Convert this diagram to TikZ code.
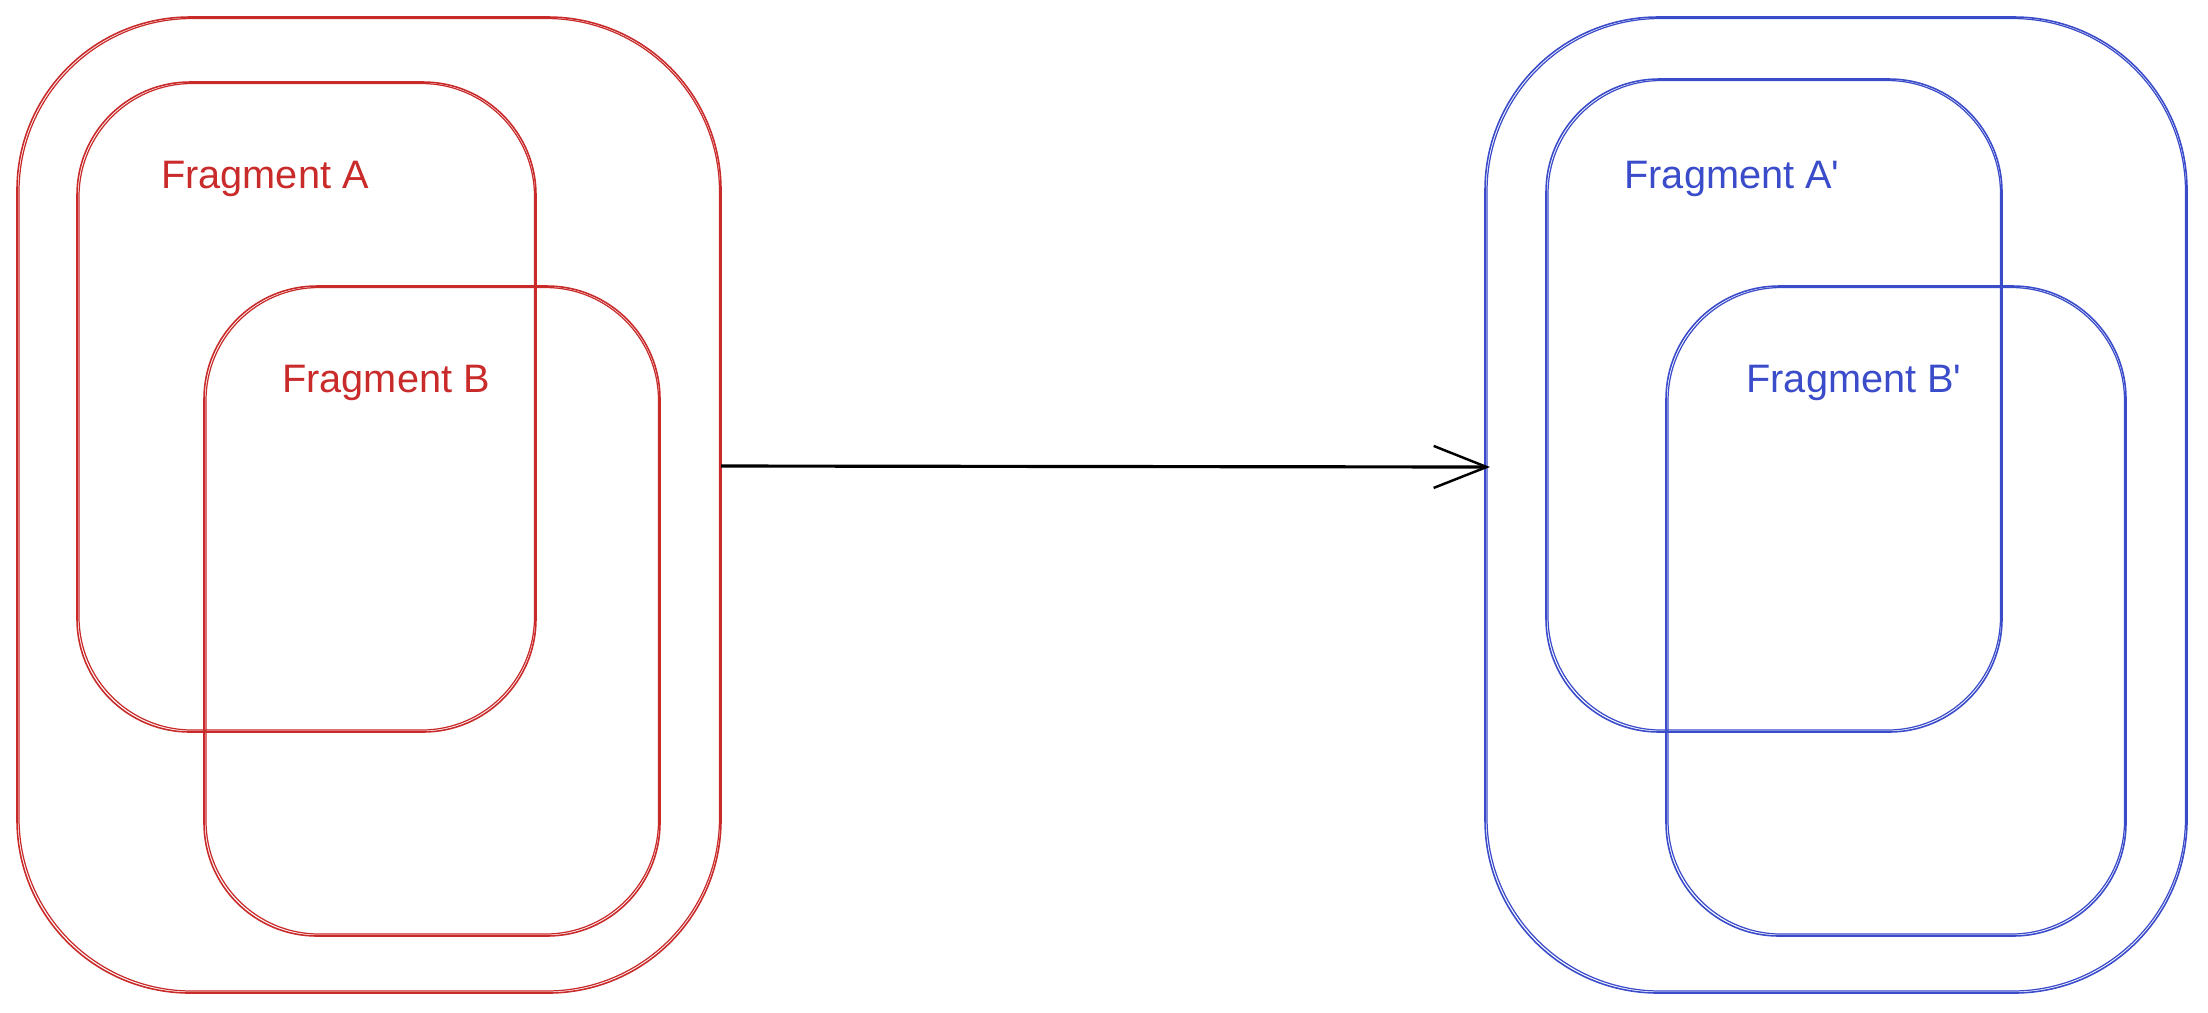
\documentclass[tikz,border=0pt]{standalone}
\usepackage{fontspec}
\setmainfont{Liberation Sans}
\usetikzlibrary{arrows.meta}
\definecolor{fred}{HTML}{C92A2A}
\definecolor{fblue}{HTML}{3B4CCA}
\tikzset{
  frag/.style={draw, line width=0.45pt, inner sep=0pt, outer sep=0pt, rectangle},
  bigbox/.style={frag, rounded corners=1.73cm, minimum width=#1},
  smallbox/.style={frag, rounded corners=1.13cm},
  lbl/.style={font=\fontsize{11.3}{13}\selectfont, inner sep=0pt},
  flow/.style={line width=0.9pt, -{Straight Barb[length=0.53cm,width=0.42cm,line width=0.7pt]}}
}
\newcommand{\sketchagain}[3]{% node, corner radius, colour
  \draw[#3, line width=0.35pt, rounded corners=#2]
    ([shift={(0.02,-0.015)}]#1.north west) rectangle ([shift={(-0.015,0.02)}]#1.south east);
}
\begin{document}
\begin{tikzpicture}
\useasboundingbox (0,0) rectangle (22.08,-10.12);
% left group
\node[bigbox=7.04cm, minimum height=9.76cm, color=fred] (ro) at (3.69,-5.05) {};
\node[smallbox, minimum width=4.59cm, minimum height=6.50cm, color=fred] (ra) at (3.065,-4.07) {};
\node[smallbox, minimum width=4.56cm, minimum height=6.50cm, color=fred] (rb) at (4.32,-6.11) {};
\sketchagain{ro}{1.73cm}{fred}
\sketchagain{ra}{1.13cm}{fred}
\sketchagain{rb}{1.13cm}{fred}
\node[lbl, text=fred] (ta) at (2.65,-1.79) {Fragment A};
\node[lbl, text=fred] (tb) at (3.86,-3.83) {Fragment B};
% right group
\node[bigbox=7.02cm, minimum height=9.76cm, color=fblue] (bo) at (18.36,-5.05) {};
\node[smallbox, minimum width=4.56cm, minimum height=6.53cm, color=fblue] (ba) at (17.74,-4.055) {};
\node[smallbox, minimum width=4.60cm, minimum height=6.50cm, color=fblue] (bb) at (18.96,-6.11) {};
\sketchagain{bo}{1.73cm}{fblue}
\sketchagain{ba}{1.13cm}{fblue}
\sketchagain{bb}{1.13cm}{fblue}
\node[lbl, text=fblue] (tap) at (17.32,-1.79) {Fragment A\textquotesingle};
\node[lbl, text=fblue] (tbp) at (18.54,-3.83) {Fragment B\textquotesingle};
% arrow
\draw[flow] ([yshift=0.39cm]ro.east) -- ([xshift=0.05cm,yshift=0.38cm]bo.west);
\end{tikzpicture}
\end{document}
